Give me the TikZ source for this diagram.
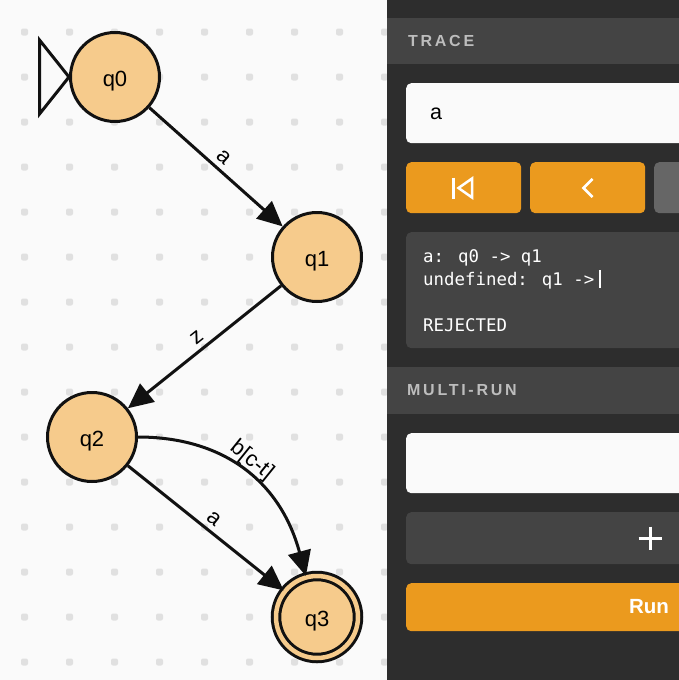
\documentclass[tikz,border=0pt]{standalone}
\usepackage{fontspec}
\usepackage{xcolor}
\setmainfont{Liberation Sans}
\newfontfamily\tracefont{DejaVu Sans Mono}
\usetikzlibrary{arrows.meta}
\usetikzlibrary{calc}
\definecolor{canvasbg}{HTML}{FAFAFA}
\definecolor{griddot}{HTML}{E0E0E0}
\definecolor{statefill}{HTML}{F6CB8C}
\definecolor{panelbg}{HTML}{2D2D2D}
\definecolor{headerbg}{HTML}{444444}
\definecolor{headertext}{HTML}{BDBDBD}
\definecolor{btnorange}{HTML}{EB9A1E}
\definecolor{btngrey}{HTML}{666666}
\definecolor{strokeblack}{HTML}{111111}
\tikzset{
  statenode/.style={circle, draw=strokeblack, line width=3pt, fill=statefill, minimum size=89pt,
    inner sep=0pt, text height=18pt, text depth=0pt, font=\fontsize{22}{24}\selectfont},
  finalnode/.style={statenode, double=statefill, double distance=4.5pt, minimum size=82pt},
  edgeline/.style={draw=strokeblack, line width=3pt, -{Triangle[length=25pt,width=23pt]}},
  edgelabel/.style={sloped, above, inner sep=5pt, font=\fontsize{22}{24}\selectfont},
  panelbox/.style={anchor=north west, inner sep=0pt, rounded corners=5pt},
  headerbox/.style={anchor=north west, inner sep=0pt, fill=headerbg, minimum width=292pt},
  headerlabel/.style={anchor=west, inner sep=0pt, text=headertext, font=\fontsize{16}{18}\selectfont\bfseries\addfontfeature{LetterSpace=17}},
  iconline/.style={draw=white, line width=2.5pt}
}
\begin{document}
\begin{tikzpicture}[x=1pt, y=-1pt]
        \clip (0,0) rectangle (679,680);
        \fill[canvasbg] (0,0) rectangle (679,680);
        \foreach \i in {0,...,8} {
          \foreach \j in {0,...,14} {
            \fill[griddot, rounded corners=2pt] ($(24.5,32)+(45*\i,45*\j)+(-3.5,-3.5)$) rectangle +(7,7);
          }
        }

        \node[statenode] (q0) at (115,77) {q0};
        \node[statenode] (q1) at (317,257) {q1};
        \node[statenode] (q2) at (92,437) {q2};
        \node[finalnode] (q3) at (317,617) {q3};

        \coordinate (start-top) at (39.5,40);
        \coordinate (start-bottom) at (39.5,114);
        \draw[draw=strokeblack, line width=3pt, line join=miter] (start-top) -- (q0.west) -- (start-bottom) -- cycle;

        \path[edgeline] (q0) -- node[edgelabel] {a} (q1);
        \path[edgeline] (q1) -- node[edgelabel] {z} (q2);
        \path[edgeline] (q2) -- node[edgelabel] {a} (q3);
        \path[edgeline] (q2.east) .. controls (222,437) and (280,480) .. node[edgelabel, inner sep=1pt] {b[c-t]} (q3);

        \fill[panelbg] (387,0) rectangle (679,680);
        \fill[canvasbg] (367,0) rectangle (387,1);

        \node[headerbox, minimum height=46pt] (traceheader) at (387,18) {};
        \node[headerlabel] (tracetitle) at (408,41) {TRACE};
        \node[panelbox, fill=canvasbg, minimum width=300pt, minimum height=60pt] (traceinput) at (406,83) {};
        \node[anchor=west, inner sep=0pt, font=\fontsize{21.5}{24}\selectfont] (tracevalue) at (430,114) {a};

        \node[panelbox, fill=btnorange, minimum width=115pt, minimum height=51pt] (btnfirst) at (406,162) {};
        \node[panelbox, fill=btnorange, minimum width=115pt, minimum height=51pt] (btnprev) at (530,162) {};
        \node[panelbox, fill=btngrey, minimum width=115pt, minimum height=51pt] (btnnext) at (654,162) {};
        \draw[iconline] (453.5,177.5) -- (453.5,198.5);
        \draw[iconline, line join=miter] (472,178.5) -- (458.5,188) -- (472,197.5) -- cycle;
        \draw[iconline] (592.5,179) -- (583.5,188) -- (592.5,197);

        \node[panelbox, fill=headerbg, minimum width=300pt, minimum height=116pt] (traceoutput) at (406,232) {};
        \node[anchor=north west, inner sep=0pt, align=left, text=white,
          font=\tracefont\fontsize{17.4}{23}\selectfont] (tracetext) at (423,249) {a: q0 -> q1\\undefined: q1 ->\\[0pt]\\REJECTED};
        \node[fill=white, inner sep=0pt, minimum width=2pt, minimum height=18pt] (tracecaret) at (599.5,279) {};

        \node[headerbox, minimum height=47pt] (multiheader) at (387,367) {};
        \node[headerlabel] (multititle) at (407,390) {MULTI-RUN};
        \node[panelbox, fill=canvasbg, minimum width=300pt, minimum height=60pt] (multiinput) at (406,433) {};
        \node[panelbox, fill=headerbg, minimum width=300pt, minimum height=52pt] (btnadd) at (406,512) {};
        \draw[iconline, line width=3pt] (638.5,538) -- (661.5,538);
        \draw[iconline, line width=3pt] (650,526.5) -- (650,549.5);
        \node[panelbox, fill=btnorange, minimum width=300pt, minimum height=48pt] (btnrun) at (406,583) {};
        \node[text=white, inner sep=0pt, font=\fontsize{20.5}{22}\selectfont\bfseries] (runlabel) at (649,606.5) {Run};
      \end{tikzpicture}
\end{document}
